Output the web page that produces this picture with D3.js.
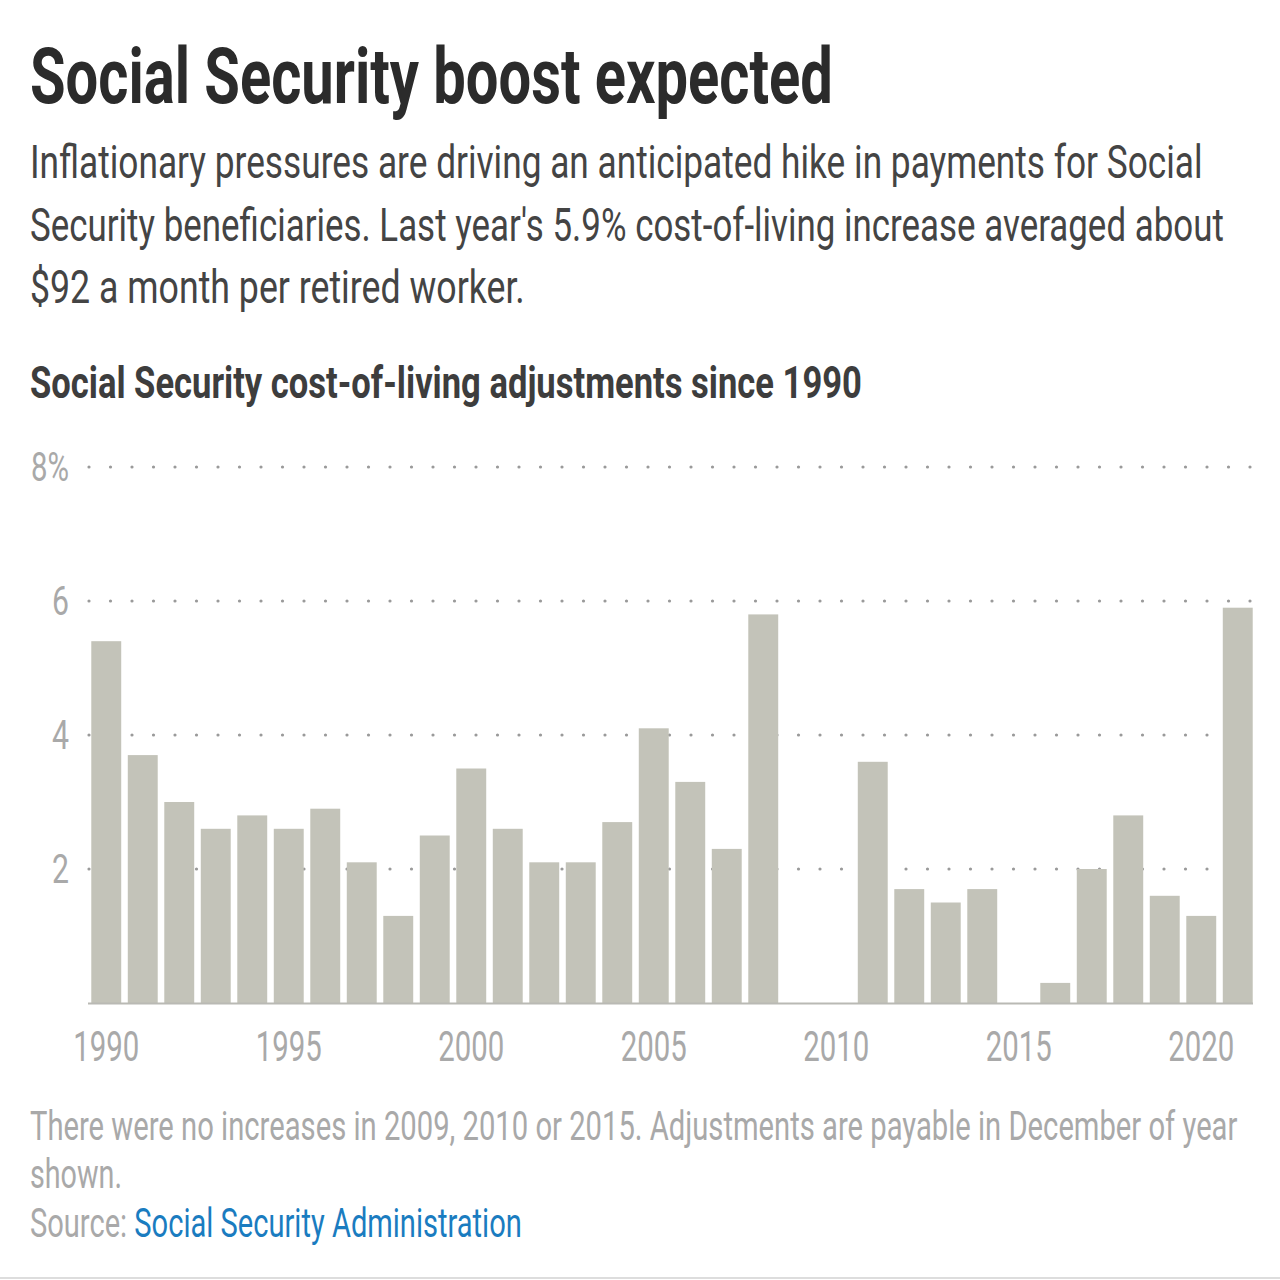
<!DOCTYPE html>
<html>
<head>
<meta charset="utf-8">
<script src="https://cdn.jsdelivr.net/npm/d3@7"></script>
<style>
  html, body { margin: 0; padding: 0; background: #fff; }
  svg { display: block; }
  text { font-family: Roboto, "Noto Sans", sans-serif; }
</style>
</head>
<body>
<script>
// ---- data ----
const years = d3.range(1990, 2022);
const cola = [5.4, 3.7, 3.0, 2.6, 2.8, 2.6, 2.9, 2.1, 1.3, 2.5,
              3.5, 2.6, 2.1, 2.1, 2.7, 4.1, 3.3, 2.3, 5.8, 0,
              0, 3.6, 1.7, 1.5, 1.7, 0, 0.3, 2.0, 2.8, 1.6,
              1.3, 5.9];
const yTicks = [2, 4, 6, 8];
const xTickYears = [1990, 1995, 2000, 2005, 2010, 2015, 2020];
const titleText = "Social Security boost expected";
const subtitleLines = [
  "Inflationary pressures are driving an anticipated hike in payments for Social",
  "Security beneficiaries. Last year's 5.9% cost-of-living increase averaged about",
  "$92 a month per retired worker."
];
const chartTitleText = "Social Security cost-of-living adjustments since 1990";
const noteLines = [
  "There were no increases in 2009, 2010 or 2015. Adjustments are payable in December of year",
  "shown."
];
const sourceLabel = "Source: ";
const sourceName = "Social Security Administration";

const data = years.map((y, i) => ({ year: y, value: cola[i] }));

// ---- layout ----
const W = 1280, H = 1280;
const svg = d3.select("body").append("svg").attr("width", W).attr("height", H);

// condensed text helper: natural text, horizontally scaled to a target width
function fitText(parent, x, y, size, weight, fill, width, anchor, build) {
  const g = parent.append("g").attr("transform", `translate(${x},${y})`);
  const t = g.append("text").attr("x", 0).attr("y", 0)
    .attr("font-size", size).attr("font-weight", weight)
    .attr("fill", fill).attr("text-anchor", anchor || "start");
  build(t);
  const len = t.node().getComputedTextLength();
  const s = len > 0 ? width / len : 1;
  g.attr("transform", `translate(${x},${y}) scale(${s},1)`);
  return g;
}

// Title block
fitText(svg, 30, 103, 78, 700, "#2b2b2b", 803, "start", t => t.text(titleText));

const subW = [1173, 1194, 495];
const subY = [178, 241, 303];
subtitleLines.forEach((txt, i) => {
  fitText(svg, 30, subY[i], 46, 400, "#444", subW[i], "start", t => t.text(txt));
});

fitText(svg, 30, 398, 45, 700, "#3d3d3d", 832, "start", t => t.text(chartTitleText));

// ---- scales ----
const x = d3.scaleBand().domain(years).range([88, 1256])
  .paddingInner(0.18).paddingOuter(0.09);
const y = d3.scaleLinear().domain([0, 8]).range([1003, 467]);

// gridlines (dotted)
svg.append("g").selectAll("line").data(yTicks).join("line")
  .attr("x1", 89).attr("x2", 1252)
  .attr("y1", d => y(d)).attr("y2", d => y(d))
  .attr("stroke", "#9a9a9a").attr("stroke-width", 3.2)
  .attr("stroke-linecap", "round")
  .attr("stroke-dasharray", "0 21.5");

// y tick labels
const yLab = svg.append("g");
yTicks.forEach(d => {
  fitText(yLab, 69, y(d) + 14, 40, 400, "#a9a9a9", d === 8 ? 38 : 17, "end",
    t => t.text(d === 8 ? d + "%" : d));
});

// bars
svg.append("g").selectAll("rect").data(data.filter(d => d.value > 0)).join("rect")
  .attr("x", d => x(d.year)).attr("width", x.bandwidth())
  .attr("y", d => y(d.value)).attr("height", d => y(0) - y(d.value))
  .attr("fill", "#c3c3b9");

// baseline
svg.append("line").attr("x1", 88).attr("x2", 1253)
  .attr("y1", y(0) + 0.5).attr("y2", y(0) + 0.5)
  .attr("stroke", "#b9b9b4").attr("stroke-width", 2);

// x tick labels
const xLab = svg.append("g");
xTickYears.forEach(d => {
  fitText(xLab, x(d) + x.bandwidth() / 2, 1061, 43, 400, "#a9a9a9", 66, "middle",
    t => t.text(d));
});

// notes
const noteW = [1208, 92];
const noteY = [1140, 1188];
noteLines.forEach((txt, i) => {
  fitText(svg, 30, noteY[i], 41, 400, "#a9a9a9", noteW[i], "start", t => t.text(txt));
});
fitText(svg, 30, 1237, 41, 400, "#a9a9a9", 492, "start", t => {
  t.append("tspan").attr("fill", "#a9a9a9").text(sourceLabel);
  t.append("tspan").attr("fill", "#1a7cc0").text(sourceName);
});

// bottom rule
svg.append("line").attr("x1", 0).attr("x2", W).attr("y1", 1278).attr("y2", 1278)
  .attr("stroke", "#dddddd").attr("stroke-width", 2);
</script>
</body>
</html>
